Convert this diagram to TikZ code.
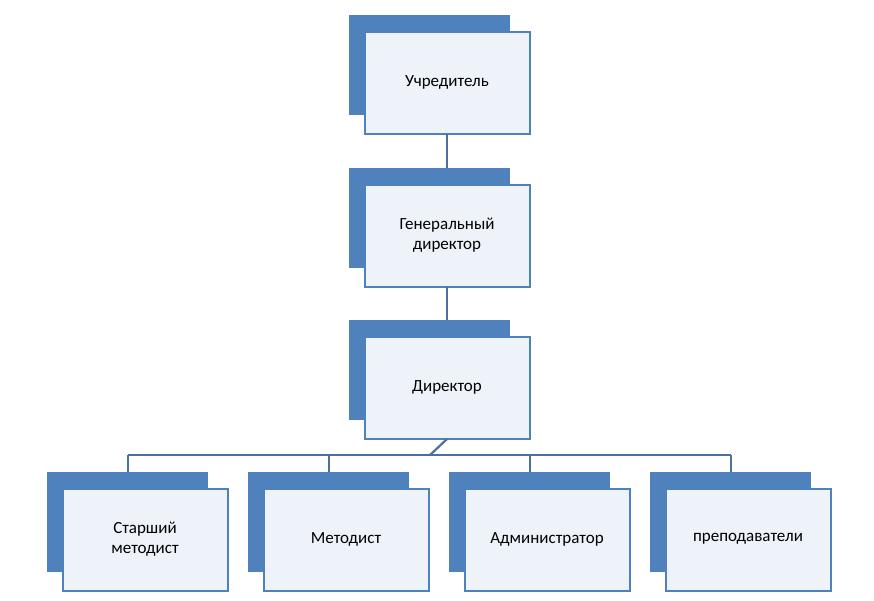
\documentclass[tikz,border=0pt]{standalone}
\usepackage{fontspec}
\setmainfont{Carlito}
\definecolor{bl}{HTML}{4F81BD}
\definecolor{lf}{HTML}{EEF3FA}
\definecolor{ln}{HTML}{4A6FA0}
\begin{document}
\begin{tikzpicture}[x=1pt,y=-1pt,
  back/.style={fill=bl,draw=none},
  front/.style={fill=lf,draw=bl,line width=2.2pt},
  lbl/.style={font=\fontsize{17}{20}\selectfont,align=center,text=black},
  conn/.style={draw=ln,line width=2.2pt}]
\useasboundingbox (0,0) rectangle (874,601);
\fill[white] (0,0) rectangle (874,601);
\newcommand\blk[7]{%
  \fill[back] (#1,#2) rectangle ++(161,100);
  \draw[front] (#1+16,#2+17) rectangle ++(165,102);
  \coordinate (#3t) at (#1+81,#2);
  \coordinate (#3b) at (#1+98,#2+119);
  \node[lbl] (#3) at (#1+#6,#2+#7) {#4};
  \coordinate (#3c) at (#1+98,#2+#5);}
\blk{349}{15}{u}{Учредитель}{0}{98}{67}
\blk{349}{168}{g}{Генеральный\\директор}{0}{98}{67}
\blk{349}{320}{d}{Директор}{0}{98}{67}
\blk{47}{472}{a}{Старший\\методист}{0}{98}{67}
\blk{248}{472}{b}{Методист}{0}{98}{67}
\blk{449}{472}{c}{Администратор}{0}{98}{67}
\blk{650}{472}{e}{преподаватели}{0}{98}{67}
\coordinate (bus) at (430,455);
\draw[conn] (ub) -- (gt -| ub);
\draw[conn] (gb) -- (dt -| gb);
\draw[conn] (db) -- (bus);
\draw[conn] (128,455) -- (731,455);
\foreach \n/\x in {a/128,b/329,c/530,e/731}
  \draw[conn] (\x,455) -- (\x,472);
\end{tikzpicture}
\end{document}
